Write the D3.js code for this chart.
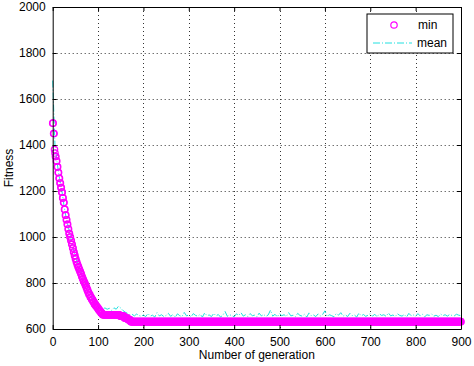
<!DOCTYPE html>
<html lang="en">
<head>
	<meta charset="UTF-8">
	<title>Fitness vs generation</title>
	<style>
		html, body {
			margin: 0;
			background: #fff;
		}
		svg text {
			font-family: 'Liberation Sans', Arial, sans-serif;
			font-size: 12px;
			fill: #000;
		}
	</style>
	<script src="https://d3js.org/d3.v7.min.js"></script>
</head>
<body>
	<svg id="container"></svg>
	<script>
		// best fitness: [generation where it changes, new value] (holds until next change)
		const minChanges = [
			[0, 1495], [2, 1450], [4, 1380], [5, 1365], [6, 1350], [8, 1330], [10, 1305], [12, 1280],
			[14, 1255], [16, 1235], [18, 1215], [20, 1195], [22, 1170], [24, 1150], [26, 1120],
			[28, 1095], [30, 1075], [32, 1055], [34, 1035], [36, 1015], [38, 1000], [40, 985],
			[42, 968], [44, 952], [46, 935], [48, 920], [50, 905], [52, 892], [54, 880], [56, 870],
			[58, 860], [60, 850], [62, 840], [64, 828], [66, 818], [68, 808], [70, 800], [72, 790],
			[74, 780], [76, 770], [78, 760], [80, 750], [83, 738], [86, 728], [89, 718], [92, 708],
			[95, 700], [98, 692], [101, 684], [104, 676], [107, 668], [110, 662], [148, 656],
			[158, 648], [166, 640], [172, 632],
		];
		// mean fitness sampled every 5 generations (0, 5, ..., 900)
		const meanStep = 5;
		const meanValues = [
			1680, 1400, 1320, 1255, 1205, 1135, 1080, 1040, 995, 950,
			915, 885, 862, 835, 815, 798, 772, 750, 730, 718,
			708, 700, 684, 692, 686, 690, 681, 692, 686, 699,
			691, 680, 673, 668, 661, 664, 657, 665, 659, 655,
			661, 654, 667, 656, 660, 652, 671, 657, 662, 654,
			659, 668, 655, 663, 651, 666, 658, 654, 672, 657,
			661, 653, 667, 659, 656, 664, 652, 670, 658, 661,
			654, 668, 657, 663, 652, 660, 676, 655, 662, 658,
			653, 666, 659, 671, 656, 662, 654, 667, 658, 660,
			652, 669, 657, 663, 655, 661, 682, 656, 664, 653,
			667, 658, 662, 655, 671, 657, 660, 653, 668, 659,
			656, 664, 652, 670, 658, 661, 654, 666, 657, 663,
			679, 655, 662, 658, 653, 667, 660, 671, 656, 662,
			654, 668, 658, 661, 652, 669, 657, 663, 655, 660,
			667, 656, 664, 653, 666, 659, 662, 655, 670, 657,
			661, 654, 666, 659, 656, 663, 652, 668, 658, 661,
			655, 667, 657, 664, 653, 662, 659, 666, 656, 660,
			654, 665, 658, 662, 656, 663, 659, 657, 664, 660,
			658,
		];
		const xTicks = [0, 100, 200, 300, 400, 500, 600, 700, 800, 900];
		const yTicks = [600, 800, 1000, 1200, 1400, 1600, 1800, 2000];
		const legendLabels = ['min', 'mean'];
		const xTitle = 'Number of generation';
		const yTitle = 'Fitness';
		const lastGeneration = 900;

		const config = {
			width: 474,
			height: 366,
			plot: { left: 52.7, right: 461, top: 7, bottom: 329 },
			minColor: '#ff00ff',
			meanColor: '#22e0e0',
		};

		// expand the step changes into one value per generation
		const minSeries = d3.range(0, lastGeneration + 1).map(g => {
			let v = minChanges[0][1];
			for (const c of minChanges) if (c[0] <= g) v = c[1];
			return { g, v };
		});
		const meanSeries = meanValues.map((v, i) => ({ g: i * meanStep, v }));

		const svg = d3.select('#container')
			.attr('width', config.width)
			.attr('height', config.height);
		const p = config.plot;

		const x = d3.scaleLinear().domain([0, 900]).range([p.left, p.right]);
		const y = d3.scaleLinear().domain([600, 2000]).range([p.bottom, p.top]);
		const fmt = d3.format('d');

		// white axes background
		svg.append('rect')
			.attr('x', p.left).attr('y', p.top)
			.attr('width', p.right - p.left).attr('height', p.bottom - p.top)
			.attr('fill', '#fff');

		// dotted grid
		const grid = svg.append('g').attr('stroke', '#333').attr('stroke-width', 1)
			.attr('stroke-dasharray', '1,3');
		grid.selectAll('.gx').data(xTicks.slice(1, -1)).enter().append('line')
			.attr('x1', d => Math.round(x(d)) + 0.5).attr('x2', d => Math.round(x(d)) + 0.5)
			.attr('y1', p.top).attr('y2', p.bottom);
		grid.selectAll('.gy').data(yTicks.slice(1, -1)).enter().append('line')
			.attr('y1', d => Math.round(y(d)) + 0.5).attr('y2', d => Math.round(y(d)) + 0.5)
			.attr('x1', p.left).attr('x2', p.right);

		// mean line (dash-dot cyan)
		svg.append('path')
			.datum(meanSeries)
			.attr('fill', 'none')
			.attr('stroke', config.meanColor)
			.attr('stroke-width', 1)
			.attr('stroke-dasharray', '7,2,1,2')
			.attr('d', d3.line().x(d => x(d.g)).y(d => y(d.v)));

		// min markers
		svg.append('g').selectAll('circle')
			.data(minSeries)
			.enter()
			.append('circle')
			.attr('cx', d => x(d.g))
			.attr('cy', d => y(d.v))
			.attr('r', 3.2)
			.attr('fill', 'none')
			.attr('stroke', config.minColor)
			.attr('stroke-width', 1.2);

		// axes with inward ticks, box on all four sides
		const axisStyle = g => {
			g.select('.domain').attr('stroke', '#000');
			g.selectAll('.tick line').attr('stroke', '#000');
			g.selectAll('.tick text').style('font-size', '12px').attr('fill', '#000');
		};
		svg.append('g')
			.attr('transform', `translate(0,${p.bottom})`)
			.call(d3.axisBottom(x).tickValues(xTicks).tickFormat(fmt).tickSize(-4).tickSizeOuter(0).tickPadding(8))
			.call(axisStyle);
		svg.append('g')
			.attr('transform', `translate(0,${p.top})`)
			.call(d3.axisTop(x).tickValues(xTicks).tickSize(-4).tickSizeOuter(0).tickFormat(''))
			.call(axisStyle);
		svg.append('g')
			.attr('transform', `translate(${p.left},0)`)
			.call(d3.axisLeft(y).tickValues(yTicks).tickFormat(fmt).tickSize(-4).tickSizeOuter(0).tickPadding(7))
			.call(axisStyle);
		svg.append('g')
			.attr('transform', `translate(${p.right},0)`)
			.call(d3.axisRight(y).tickValues(yTicks).tickSize(-4).tickSizeOuter(0).tickFormat(''))
			.call(axisStyle);

		// axis titles
		svg.append('text')
			.attr('x', (p.left + p.right) / 2)
			.attr('y', 359)
			.attr('text-anchor', 'middle')
			.text(xTitle);
		svg.append('text')
			.attr('transform', `translate(13,${(p.top + p.bottom) / 2}) rotate(-90)`)
			.attr('text-anchor', 'middle')
			.text(yTitle);

		// legend
		const legend = svg.append('g').attr('transform', 'translate(367,14)');
		legend.append('rect')
			.attr('width', 86).attr('height', 39)
			.attr('fill', '#fff').attr('stroke', '#000');
		legend.append('circle')
			.attr('cx', 27).attr('cy', 11).attr('r', 3.2)
			.attr('fill', 'none').attr('stroke', config.minColor).attr('stroke-width', 1.2);
		legend.append('line')
			.attr('x1', 6).attr('x2', 45).attr('y1', 29).attr('y2', 29)
			.attr('stroke', config.meanColor).attr('stroke-dasharray', '7,2,1,2');
		legend.selectAll('.lbl').data(legendLabels).enter().append('text')
			.attr('x', (d, i) => i === 0 ? 51 : 50)
			.attr('y', (d, i) => i === 0 ? 15 : 33)
			.text(d => d);
	</script>
</body>
</html>
